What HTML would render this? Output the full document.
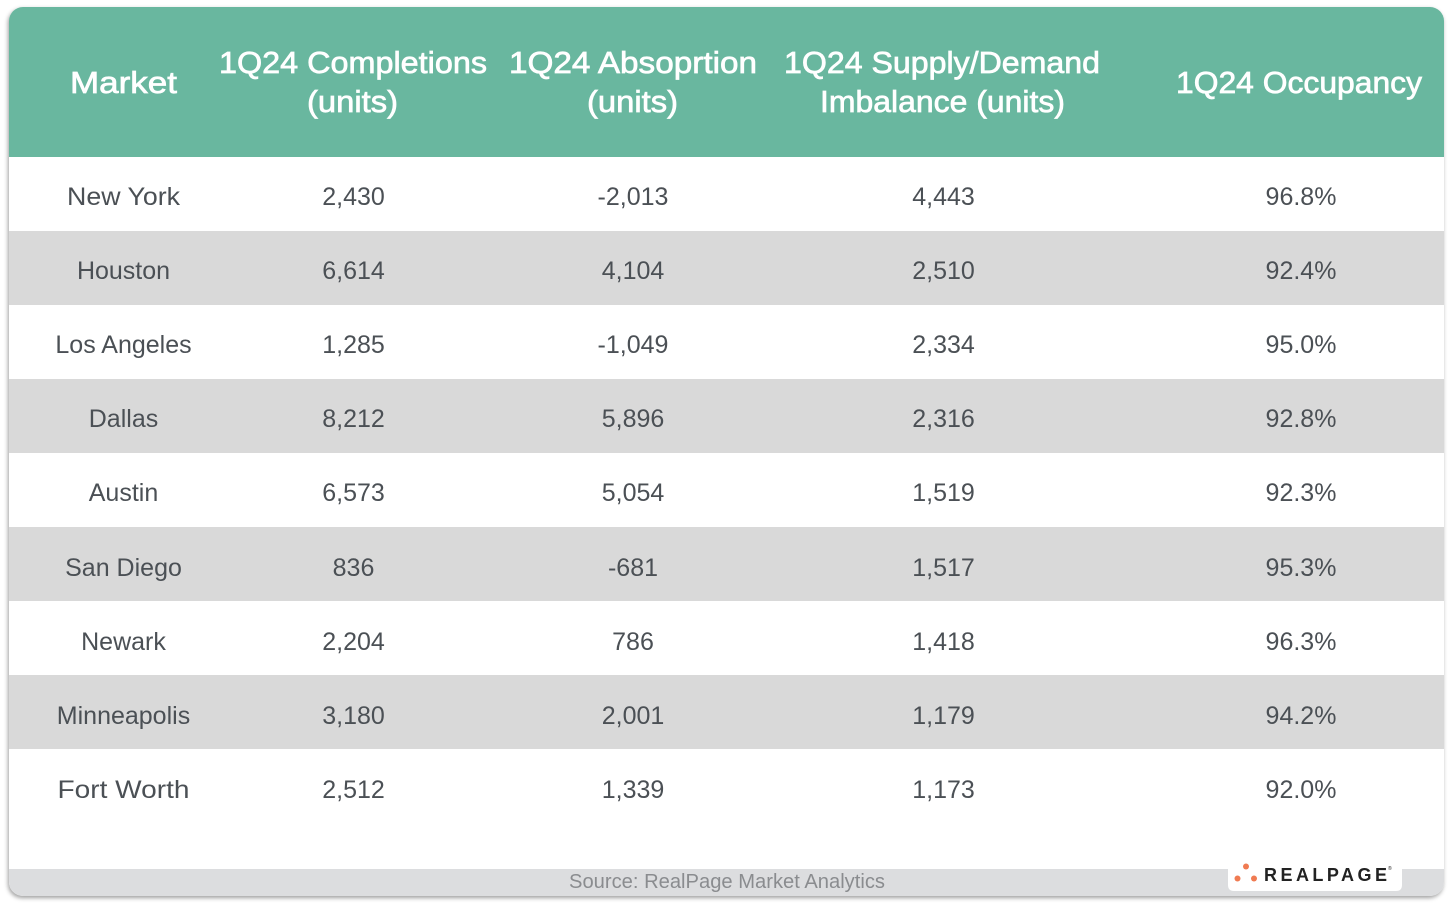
<!DOCTYPE html>
<html><head><meta charset="utf-8"><style>
html,body{margin:0;padding:0;background:#fff;width:1455px;height:903px;overflow:hidden}
.card{position:absolute;left:9px;top:7px;width:1435px;height:889px;border-radius:14px;overflow:hidden;box-shadow:-1px 2px 4px rgba(0,0,0,0.38);background:#fff}
svg{position:absolute;left:0;top:0}
</style></head><body>
<div class="card">
<svg width="1435" height="889" viewBox="9 7 1435 889" xmlns="http://www.w3.org/2000/svg">
<rect x="9" y="7" width="1435" height="150" fill="#69b79f"/>
<rect x="9" y="157" width="1435" height="74" fill="#ffffff"/>
<rect x="9" y="231" width="1435" height="74" fill="#d9d9d9"/>
<rect x="9" y="379" width="1435" height="74" fill="#d9d9d9"/>
<rect x="9" y="527" width="1435" height="74" fill="#d9d9d9"/>
<rect x="9" y="675" width="1435" height="74" fill="#d9d9d9"/>
<rect x="9" y="869" width="1435" height="27" fill="#dcdddf"/>
<g font-family="Liberation Sans, sans-serif" font-weight="normal" font-size="31" fill="#ffffff" stroke="#ffffff" stroke-width="0.7" text-anchor="middle">
<text x="123.5" y="93" textLength="107" lengthAdjust="spacingAndGlyphs">Market</text>
<text x="353" y="73" textLength="268" lengthAdjust="spacingAndGlyphs">1Q24 Completions</text>
<text x="352.5" y="112" textLength="91" lengthAdjust="spacingAndGlyphs">(units)</text>
<text x="633" y="73" textLength="248" lengthAdjust="spacingAndGlyphs">1Q24 Absoprtion</text>
<text x="632.5" y="112" textLength="91" lengthAdjust="spacingAndGlyphs">(units)</text>
<text x="942" y="73" textLength="316" lengthAdjust="spacingAndGlyphs">1Q24 Supply/Demand</text>
<text x="942.5" y="112" textLength="245" lengthAdjust="spacingAndGlyphs">Imbalance (units)</text>
<text x="1299" y="93" textLength="246" lengthAdjust="spacingAndGlyphs">1Q24 Occupancy</text>
</g>
<g font-family="Liberation Sans, sans-serif" font-size="25" fill="#4b5055" text-anchor="middle">
<text x="123.5" y="205" textLength="113" lengthAdjust="spacingAndGlyphs">New York</text><text x="353.5" y="205">2,430</text><text x="633" y="205">-2,013</text><text x="943.5" y="205">4,443</text><text x="1301" y="205">96.8%</text>
<text x="123.5" y="279">Houston</text><text x="353.5" y="279">6,614</text><text x="633" y="279">4,104</text><text x="943.5" y="279">2,510</text><text x="1301" y="279">92.4%</text>
<text x="123.5" y="353">Los Angeles</text><text x="353.5" y="353">1,285</text><text x="633" y="353">-1,049</text><text x="943.5" y="353">2,334</text><text x="1301" y="353">95.0%</text>
<text x="123.5" y="427">Dallas</text><text x="353.5" y="427">8,212</text><text x="633" y="427">5,896</text><text x="943.5" y="427">2,316</text><text x="1301" y="427">92.8%</text>
<text x="123.5" y="501">Austin</text><text x="353.5" y="501">6,573</text><text x="633" y="501">5,054</text><text x="943.5" y="501">1,519</text><text x="1301" y="501">92.3%</text>
<text x="123.5" y="576">San Diego</text><text x="353.5" y="576">836</text><text x="633" y="576">-681</text><text x="943.5" y="576">1,517</text><text x="1301" y="576">95.3%</text>
<text x="123.5" y="650">Newark</text><text x="353.5" y="650">2,204</text><text x="633" y="650">786</text><text x="943.5" y="650">1,418</text><text x="1301" y="650">96.3%</text>
<text x="123.5" y="724">Minneapolis</text><text x="353.5" y="724">3,180</text><text x="633" y="724">2,001</text><text x="943.5" y="724">1,179</text><text x="1301" y="724">94.2%</text>
<text x="123.5" y="798" textLength="132" lengthAdjust="spacingAndGlyphs">Fort Worth</text><text x="353.5" y="798">2,512</text><text x="633" y="798">1,339</text><text x="943.5" y="798">1,173</text><text x="1301" y="798">92.0%</text>
</g>
<text x="727" y="888" font-family="Liberation Sans, sans-serif" font-size="20" fill="#8a8c8f" text-anchor="middle" textLength="316" lengthAdjust="spacingAndGlyphs">Source: RealPage Market Analytics</text>
<path d="M1228 868 H1402 V885 Q1402 891 1396 891 H1234 Q1228 891 1228 885 Z" fill="#ffffff"/>
<circle cx="1246" cy="866.5" r="3" fill="#f07b52"/>
<circle cx="1237.5" cy="878.5" r="3" fill="#f07b52"/>
<circle cx="1254" cy="878.5" r="3" fill="#f07b52"/>
<text x="1264" y="881" font-family="Liberation Sans, sans-serif" font-weight="bold" font-size="18" fill="#222222" textLength="123" lengthAdjust="spacing">REALPAGE</text>
<text x="1388" y="870" font-family="Liberation Sans, sans-serif" font-size="5" fill="#222222">®</text>
</svg>
</div>
</body></html>
